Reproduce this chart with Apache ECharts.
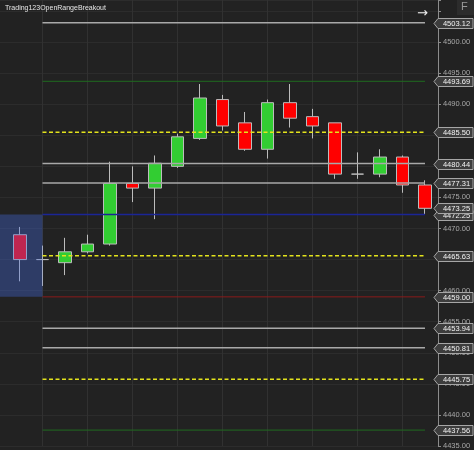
<!DOCTYPE html>
<html>
<head>
<meta charset="utf-8">
<script src="https://cdn.jsdelivr.net/npm/echarts@6/dist/echarts.min.js"></script>
<style>
  html, body { margin: 0; padding: 0; background: #222222; }
  #chart { width: 474px; height: 450px; }
</style>
</head>
<body>
<div id="chart"></div>
<script>
// Bar index, OHLC per bar
const bars   = [0, 1, 2, 3, 4, 5, 6, 7, 8, 9, 10, 11, 12, 13, 14, 15, 16, 17, 18];
const opens  = [4469.00, 4465.00, 4464.50, 4466.25, 4467.50, 4477.25, 4476.50, 4480.00, 4484.50, 4490.75, 4487.00, 4482.75, 4490.25, 4488.00, 4487.00, 4478.75, 4478.75, 4481.50, 4477.00];
const closes = [4465.00, 4465.00, 4466.25, 4467.50, 4477.25, 4476.50, 4480.50, 4484.75, 4491.00, 4486.50, 4482.75, 4490.25, 4487.75, 4486.50, 4478.75, 4478.75, 4481.50, 4477.00, 4473.25];
const lows   = [4461.50, 4460.75, 4462.50, 4466.00, 4467.25, 4474.25, 4471.50, 4479.75, 4484.25, 4485.75, 4482.50, 4481.25, 4486.25, 4484.50, 4478.00, 4478.00, 4478.25, 4475.75, 4472.25];
const highs  = [4470.25, 4467.25, 4468.50, 4469.00, 4480.75, 4480.00, 4481.75, 4485.25, 4493.25, 4491.50, 4488.75, 4490.75, 4493.25, 4489.25, 4487.00, 4482.25, 4482.75, 4481.75, 4477.75];

// Vertical grid every second bar
const gridBars = [1, 3, 5, 7, 9, 11, 13, 15, 17];

// Opening range
const rangeHigh = 4472.25;
const rangeLow  = 4459.00;
const rangeEndBar = 1;

// Breakout / reference levels
const grayLevels   = [4503.12, 4480.44, 4477.31, 4453.94, 4450.81];
const targetLevels = [4485.50, 4465.63, 4445.75];
const greenLevels  = [4493.69, 4437.56];
const levelSpan    = [1, 18];

// Visible bar window and price axis
const barMin = -0.889;
const barMax = 18.578;
const priceMin = 4435;
const priceMax = 4506.77;
const priceStep = 5;

const lastClose = closes[closes.length - 1];

const chart = echarts.init(document.getElementById('chart'), null, { renderer: 'canvas' });

const FONT = '"Liberation Sans", Arial, sans-serif';

function levelSeries(value, lineStyle) {
  return {
    type: 'line',
    silent: true,
    z: 6,
    showSymbol: false,
    symbol: 'none',
    data: [[levelSpan[0], value], [levelSpan[1], value]],
    lineStyle: lineStyle
  };
}

const levelLines = [];
grayLevels.forEach(v => levelLines.push(levelSeries(v, { color: '#a9a9a9', width: 1.5 })));
targetLevels.forEach(v => levelLines.push(levelSeries(v, { color: '#e3e31c', width: 1.5, type: [4, 2.5] })));
greenLevels.forEach(v => levelLines.push(levelSeries(v, { color: '#1f6b1f', width: 1 })));
levelLines.push(levelSeries(rangeHigh, { color: '#1b2596', width: 1.5 }));
levelLines.push(levelSeries(rangeLow, { color: '#8a1a1a', width: 1 }));

// Price tags on the right axis, drawn in order (later ones on top)
const tagValues = [].concat(grayLevels, targetLevels, greenLevels, [rangeLow, rangeHigh, lastClose]);

function renderTag(params, api) {
  const pt = api.coord([api.value(0), api.value(1)]);
  const cs = params.coordSys;
  const x0 = cs.x + cs.width;
  const y = Math.round(pt[1]) + 0.5;
  const h = 10, w = 35, tip = 4;
  return {
    type: 'group',
    children: [
      {
        type: 'polygon',
        shape: { points: [[x0 - tip, y], [x0, y - h / 2], [x0 + w, y - h / 2], [x0 + w, y + h / 2], [x0, y + h / 2]] },
        style: { fill: '#3d3d3d', stroke: '#a6a6a6', lineWidth: 1 }
      },
      {
        type: 'text',
        x: x0 + w / 2 + 1,
        y: y + 0.5,
        style: {
          text: api.value(1).toFixed(2),
          fill: '#f2f2f2',
          font: '7.5px ' + FONT,
          align: 'center',
          verticalAlign: 'middle'
        }
      }
    ]
  };
}

const option = {
  backgroundColor: '#222222',
  animation: false,
  title: {
    text: 'Trading123OpenRangeBreakout',
    left: 5,
    top: 5,
    padding: 0,
    textStyle: { color: '#e6e6e6', fontSize: 7, fontWeight: 'normal', fontFamily: FONT }
  },
  grid: { left: 0, right: 36, top: 0, bottom: 0, containLabel: false },
  xAxis: {
    type: 'value',
    min: barMin,
    max: barMax,
    axisLine: { show: false },
    axisTick: { show: false },
    axisLabel: { show: false },
    splitLine: { show: false }
  },
  yAxis: {
    type: 'value',
    position: 'right',
    min: priceMin,
    max: priceMax,
    interval: priceStep,
    axisLine: { show: true, onZero: false, lineStyle: { color: '#8c8c8c', width: 1 } },
    axisTick: { show: true, length: 3, lineStyle: { color: '#8c8c8c' } },
    axisLabel: {
      margin: 5,
      color: '#a8a8a8',
      fontSize: 7.5,
      fontFamily: FONT,
      formatter: v => (v > 4502 ? '' : v.toFixed(2))
    },
    splitLine: { show: true, lineStyle: { color: '#2c2c2c', width: 1 } }
  },
  series: [
    {
      // vertical grid lines
      type: 'line',
      z: 1,
      silent: true,
      symbol: 'none',
      data: [],
      markLine: {
        z: 1,
        silent: true,
        symbol: ['none', 'none'],
        label: { show: false },
        lineStyle: { color: '#313131', width: 1, type: 'solid' },
        data: gridBars.map(b => ({ xAxis: b }))
      }
    },
    {
      type: 'candlestick',
      z: 3,
      barWidth: 13,
      data: bars.map(i => [i, opens[i], closes[i], lows[i], highs[i]]),
      itemStyle: {
        color: '#32cd32',
        color0: '#ff0000',
        borderColor: '#bcbcbc',
        borderColor0: '#bcbcbc',
        borderColorDoji: '#bcbcbc',
        borderWidth: 1
      }
    },
    {
      // opening range box, laid over the first bars
      type: 'line',
      z: 5,
      silent: true,
      symbol: 'none',
      data: [],
      markArea: {
        z: 5,
        silent: true,
        itemStyle: { color: 'rgba(70,110,230,0.35)' },
        data: [[{ coord: [barMin, rangeHigh] }, { coord: [rangeEndBar, rangeLow] }]]
      }
    }
  ].concat(levelLines, [
    {
      type: 'custom',
      z: 20,
      silent: true,
      clip: false,
      renderItem: renderTag,
      encode: { x: 0, y: 1 },
      data: tagValues.map(v => [levelSpan[1], v])
    }
  ]),
  graphic: [
    {
      type: 'rect',
      right: 0,
      top: 0,
      z: 30,
      shape: { width: 17, height: 15 },
      style: { fill: '#2c2c2c' }
    },
    {
      type: 'text',
      left: 461,
      top: 1,
      z: 31,
      style: { text: 'F', fill: '#9a9a9a', font: '11px ' + FONT }
    },
    {
      type: 'text',
      left: 417,
      top: 7,
      z: 31,
      style: { text: '→', fill: '#f0f0f0', font: '13px "DejaVu Sans", sans-serif' }
    }
  ]
};

chart.setOption(option);
</script>
</body>
</html>
